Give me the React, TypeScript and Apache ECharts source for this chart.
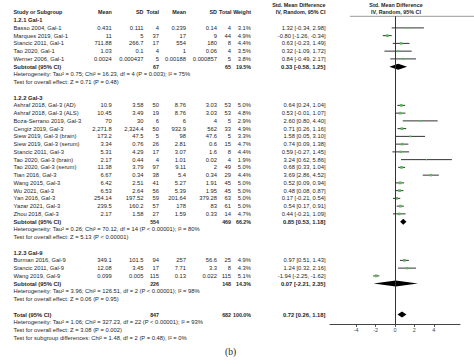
import React, { useEffect, useRef } from "react";
import * as echarts from "echarts";

// ---------------- data ----------------
const groupLabels = ["1.2.1 Gal-1", "1.2.2 Gal-3", "1.2.3 Gal-9"];
const groupSizes = [5, 15, 3];

const studyNames = [
  "Basso 2004, Gal-1",
  "Marques 2019, Gal-1",
  "Stancic 2011, Gal-1",
  "Tao 2020, Gal-1",
  "Werner 2006, Gal-1",
  "Ashraf 2018, Gal-3 (AD)",
  "Ashraf 2018, Gal-3 (ALS)",
  "Boza-Serrano 2019, Gal-3",
  "Cengiz 2019, Gal-3",
  "Siew 2019, Gal-3 (brain)",
  "Siew 2019, Gal-3 (serum)",
  "Stancic 2011, Gal-3",
  "Tao 2020, Gal-3 (brain)",
  "Tao 2020, Gal-3 (serum)",
  "Tian 2016, Gal-3",
  "Wang 2015, Gal-3",
  "Wu 2021, Gal-3",
  "Yan 2016, Gal-3",
  "Yazar 2021, Gal-3",
  "Zhou 2018, Gal-3",
  "Burman 2016, Gal-9",
  "Stancic 2011, Gal-9",
  "Wang 2019, Gal-9",
];
const expMean = ["0.431", "11", "711.88", "1.03", "0.0024", "10.9", "10.45", "70", "2,271.8", "173.2", "3.34", "5.31", "2.17", "11.38", "6.67", "6.42", "6.53", "254.14", "239.5", "2.17", "349.1", "12.08", "0.099"];
const expSD = ["0.111", "5", "266.7", "0.1", "0.000437", "3.58", "3.49", "30", "2,324.4", "47.5", "0.76", "4.29", "0.44", "3.79", "0.34", "2.51", "2.64", "197.52", "160.2", "1.58", "101.5", "3.45", "0.005"];
const expTotal = [4, 37, 17, 4, 5, 50, 19, 6, 50, 5, 26, 17, 4, 97, 38, 41, 56, 59, 57, 27, 94, 17, 115];
const ctlMean = ["0.239", "17", "554", "1", "0.00188", "8.76", "8.76", "6", "932.9", "98", "2.81", "3.07", "1.01", "9.11", "5.4", "5.27", "5.39", "201.64", "178", "1.59", "257", "7.71", "0.13"];
const ctlSD = ["0.14", "9", "180", "0.06", "0.000857", "3.03", "3.03", "4", "562", "47.6", "0.6", "1.6", "0.02", "2", "0.34", "1.91", "1.95", "379.28", "83", "0.33", "56.6", "3.3", "0.022"];
const ctlTotal = [4, 44, 8, 4, 5, 53, 53, 5, 33, 5, 15, 8, 4, 49, 29, 45, 45, 63, 61, 14, 25, 8, 115];
const weights = [3.1, 4.9, 4.4, 3.5, 3.8, 5.0, 4.8, 2.9, 4.9, 3.3, 4.7, 4.4, 1.9, 5.0, 4.4, 5.0, 5.0, 5.0, 5.0, 4.7, 4.9, 4.3, 5.1];
const smd = [1.32, -0.8, 0.63, 0.32, 0.84, 0.64, 0.53, 2.6, 0.71, 1.58, 0.74, 0.59, 3.24, 0.68, 3.69, 0.52, 0.48, 0.17, 0.54, 0.44, 0.97, 1.24, -1.94];
const ciLow = [-0.34, -1.26, -0.23, -1.09, -0.49, 0.24, -0.01, 0.8, 0.26, 0.05, 0.09, -0.27, 0.62, 0.33, 2.86, 0.09, 0.08, -0.21, 0.17, -0.21, 0.51, 0.32, -2.25];
const ciHigh = [2.98, -0.34, 1.49, 1.72, 2.17, 1.04, 1.07, 4.4, 1.16, 3.1, 1.38, 1.45, 5.86, 1.04, 4.52, 0.94, 0.87, 0.54, 0.91, 1.09, 1.43, 2.16, -1.62];

const subExpTotal = [67, 554, 226];
const subCtlTotal = [65, 469, 148];
const subWeight = [19.5, 66.2, 14.3];
const subSmd = [0.33, 0.85, 0.07];
const subLow = [-0.58, 0.53, -2.21];
const subHigh = [1.25, 1.18, 2.35];
const groupHeterogeneity = [
  "Heterogeneity: Tau² = 0.75; Chi² = 16.23, df = 4 (P = 0.003); I² = 75%",
  "Heterogeneity: Tau² = 0.26; Chi² = 70.12, df = 14 (P < 0.00001); I² = 80%",
  "Heterogeneity: Tau² = 3.96; Chi² = 126.51, df = 2 (P < 0.00001); I² = 98%",
];
const groupOverall = [
  "Test for overall effect: Z = 0.71 (P = 0.48)",
  "Test for overall effect: Z = 5.13 (P < 0.00001)",
  "Test for overall effect: Z = 0.06 (P = 0.95)",
];

const totalExp = 847;
const totalCtl = 682;
const totalWeight = 100.0;
const totalSmd = 0.72;
const totalLow = 0.26;
const totalHigh = 1.18;
const totalNotes = [
  "Heterogeneity: Tau² = 1.06; Chi² = 327.23, df = 22 (P < 0.00001); I² = 93%",
  "Test for overall effect: Z = 3.08 (P = 0.002)",
  "Test for subgroup differences: Chi² = 1.48, df = 2 (P = 0.48), I² = 0%",
];
const columnHeaders = ["Mean", "SD", "Total", "Mean", "SD", "Total", "Weight"];
const axisTickValues = [-4, -2, 0, 2, 4];

// ---------------- layout ----------------
const FONT = "'Liberation Sans', Arial, sans-serif";
const FS = 5.8;
const HFS = 5.4;
const BFS = 5.3;
const TXT = "#262626";
const COL = { study: 13.5, m1: 111.7, sd1: 143.5, t1: 159, m2: 186, sd2: 217, t2: 231, w: 251, ci: 325.5, forest: 396 };

type Cell = {
  row: number;
  x: number;
  text: string;
  align: "left" | "right" | "center";
  bold?: boolean;
  size?: number;
  family?: string;
};

const fmtCI = (e: number, l: number, h: number) =>
  `${e.toFixed(2)} [${l.toFixed(2)}, ${h.toFixed(2)}]`;

function buildLayout() {
  const cells: Cell[] = [];
  const studyMarks: number[][] = [];
  const diamondMarks: number[][] = [];

  cells.push({ row: -1, x: COL.ci, text: "Std. Mean Difference", align: "right", bold: true, size: HFS });
  cells.push({ row: -1, x: COL.forest, text: "Std. Mean Difference", align: "center", bold: true, size: HFS });
  cells.push({ row: 0, x: COL.study, text: "Study or Subgroup", align: "left", bold: true, size: HFS });
  const hx = [COL.m1, COL.sd1, COL.t1, COL.m2, COL.sd2, COL.t2 + 0.5, COL.w];
  columnHeaders.forEach((h, i) => cells.push({ row: 0, x: hx[i], text: h, align: "right", bold: true, size: HFS }));
  cells.push({ row: 0, x: COL.ci, text: "IV, Random, 95% CI", align: "right", bold: true, size: HFS });
  cells.push({ row: 0, x: COL.forest, text: "IV, Random, 95% CI", align: "center", bold: true, size: HFS });

  let row = 1;
  let idx = 0;
  groupLabels.forEach((g, gi) => {
    cells.push({ row, x: COL.study, text: g, align: "left", bold: true });
    for (let k = 0; k < groupSizes[gi]; k++, idx++) {
      const r = row + 1 + k;
      cells.push({ row: r, x: COL.study, text: studyNames[idx], align: "left" });
      cells.push({ row: r, x: COL.m1, text: expMean[idx], align: "right" });
      cells.push({ row: r, x: COL.sd1, text: expSD[idx], align: "right" });
      cells.push({ row: r, x: COL.t1, text: String(expTotal[idx]), align: "right" });
      cells.push({ row: r, x: COL.m2, text: ctlMean[idx], align: "right" });
      cells.push({ row: r, x: COL.sd2, text: ctlSD[idx], align: "right" });
      cells.push({ row: r, x: COL.t2, text: String(ctlTotal[idx]), align: "right" });
      cells.push({ row: r, x: COL.w, text: `${weights[idx].toFixed(1)}%`, align: "right" });
      cells.push({ row: r, x: COL.ci, text: fmtCI(smd[idx], ciLow[idx], ciHigh[idx]), align: "right" });
      studyMarks.push([smd[idx], r, ciLow[idx], ciHigh[idx], weights[idx]]);
    }
    const sr = row + groupSizes[gi] + 1;
    cells.push({ row: sr, x: COL.study, text: "Subtotal (95% CI)", align: "left", bold: true });
    cells.push({ row: sr, x: COL.t1, text: String(subExpTotal[gi]), align: "right", bold: true, size: BFS });
    cells.push({ row: sr, x: COL.t2, text: String(subCtlTotal[gi]), align: "right", bold: true, size: BFS });
    cells.push({ row: sr, x: COL.w, text: `${subWeight[gi].toFixed(1)}%`, align: "right", bold: true, size: BFS });
    cells.push({ row: sr, x: COL.ci, text: fmtCI(subSmd[gi], subLow[gi], subHigh[gi]), align: "right", bold: true });
    diamondMarks.push([subSmd[gi], sr, subLow[gi], subHigh[gi]]);
    cells.push({ row: sr + 1, x: COL.study, text: groupHeterogeneity[gi], align: "left" });
    cells.push({ row: sr + 2, x: COL.study, text: groupOverall[gi], align: "left" });
    row = sr + 4;
  });

  cells.push({ row, x: COL.study, text: "Total (95% CI)", align: "left", bold: true });
  cells.push({ row, x: COL.t1, text: String(totalExp), align: "right", bold: true, size: BFS });
  cells.push({ row, x: COL.t2, text: String(totalCtl), align: "right", bold: true, size: BFS });
  cells.push({ row, x: COL.w, text: `${totalWeight.toFixed(1)}%`, align: "right", bold: true, size: BFS });
  cells.push({ row, x: COL.ci, text: fmtCI(totalSmd, totalLow, totalHigh), align: "right", bold: true });
  diamondMarks.push([totalSmd, row, totalLow, totalHigh]);
  totalNotes.forEach((t, i) => cells.push({ row: row + 1 + i, x: COL.study, text: t, align: "left" }));

  cells.push({ row: 43.8, x: 230.5, text: "(b)", align: "center", size: 9.5, family: "'Liberation Serif', 'Times New Roman', serif" });

  return { cells, studyMarks, diamondMarks };
}

export default function App() {
  const ref = useRef<HTMLDivElement>(null);

  useEffect(() => {
    if (!ref.current) return;
    const chart = echarts.init(ref.current, null, { renderer: "svg" });
    const { cells, studyMarks, diamondMarks } = buildLayout();

    const option: any = {
      animation: false,
      backgroundColor: "#ffffff",
      grid: { left: 330, width: 130, top: 16.275, height: 308.03, containLabel: false },
      xAxis: {
        type: "value",
        min: -6.7,
        max: 6.7,
        axisLine: { show: true, onZero: false, lineStyle: { color: "#444", width: 1 } },
        axisTick: { show: true, customValues: axisTickValues, length: 2.5, lineStyle: { color: "#444" } },
        axisLabel: { show: true, customValues: axisTickValues, fontSize: 5.5, color: "#444", margin: 3, fontFamily: FONT },
        splitLine: { show: false },
      },
      yAxis: { type: "value", min: 0.5, max: 40.25, inverse: true, show: false },
      graphic: [
        { type: "line", shape: { x1: 350, y1: 16.3, x2: 474, y2: 16.3 }, style: { stroke: "#999", lineWidth: 1 }, silent: true },
      ],
      series: [
        {
          type: "custom",
          name: "table",
          coordinateSystem: "cartesian2d",
          data: cells.map((c) => [0, c.row]),
          encode: { x: 0, y: 1 },
          clip: false,
          silent: true,
          z: 5,
          renderItem: (params: any, api: any) => {
            const c = cells[params.dataIndex];
            const y = api.coord([0, api.value(1)])[1];
            return {
              type: "text",
              x: c.x,
              y,
              style: {
                text: c.text,
                fill: TXT,
                fontSize: c.size || FS,
                fontFamily: c.family || FONT,
                fontWeight: c.bold ? "bold" : "normal",
                align: c.align,
                verticalAlign: "middle",
              },
            };
          },
        },
        {
          type: "custom",
          name: "studies",
          coordinateSystem: "cartesian2d",
          data: studyMarks,
          encode: { x: [0, 2, 3], y: 1 },
          clip: false,
          silent: true,
          z: 3,
          renderItem: (params: any, api: any) => {
            const est = api.value(0);
            const r = api.value(1);
            const lo = api.value(2);
            const hi = api.value(3);
            const w = api.value(4);
            const pl = api.coord([lo, r]);
            const ph = api.coord([hi, r]);
            const pe = api.coord([est, r]);
            const s = w * 0.55;
            return {
              type: "group",
              children: [
                { type: "line", shape: { x1: pl[0], y1: pl[1], x2: ph[0], y2: ph[1] }, style: { stroke: "#333", lineWidth: 1 } },
                { type: "rect", shape: { x: pe[0] - s / 2, y: pe[1] - s / 2, width: s, height: s }, style: { fill: "#5db85d" } },
              ],
            };
          },
          markLine: {
            silent: true,
            symbol: ["none", "none"],
            label: { show: false },
            lineStyle: { color: "#333", width: 1, type: "solid" },
            data: [{ xAxis: 0 }],
          },
        },
        {
          type: "custom",
          name: "diamonds",
          coordinateSystem: "cartesian2d",
          data: diamondMarks,
          encode: { x: [0, 2, 3], y: 1 },
          clip: false,
          silent: true,
          z: 4,
          renderItem: (params: any, api: any) => {
            const est = api.value(0);
            const r = api.value(1);
            const pl = api.coord([api.value(2), r]);
            const ph = api.coord([api.value(3), r]);
            const pe = api.coord([est, r]);
            const h = 3;
            return {
              type: "polygon",
              shape: { points: [[pl[0], pl[1]], [pe[0], pe[1] - h], [ph[0], ph[1]], [pe[0], pe[1] + h]] },
              style: { fill: "#000" },
            };
          },
        },
      ],
    };
    chart.setOption(option);
    return () => chart.dispose();
  }, []);

  return (
    <div
      ref={ref}
      style={{ position: "fixed", left: 0, top: 0, width: 474, height: 364, background: "#fff" }}
    />
  );
}
